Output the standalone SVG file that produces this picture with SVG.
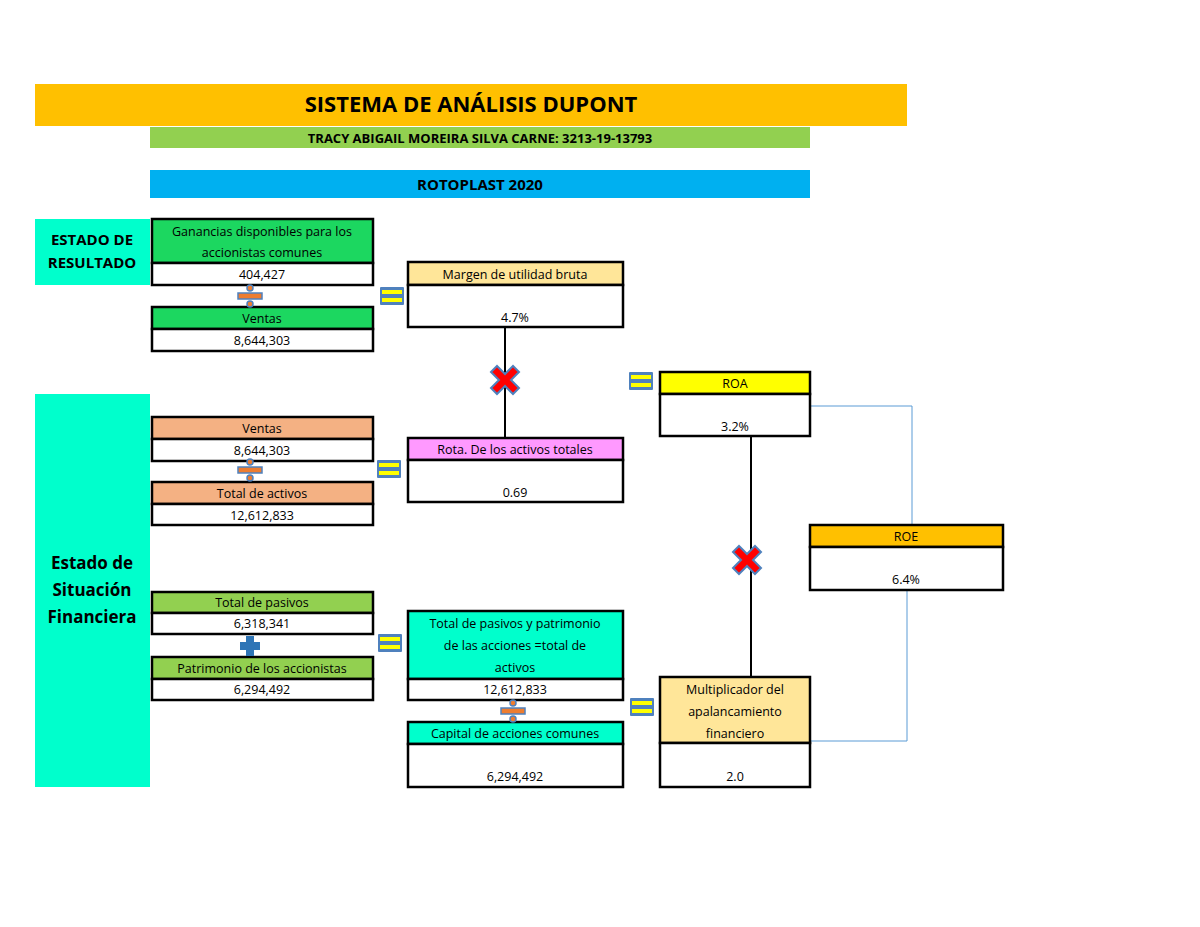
<svg xmlns="http://www.w3.org/2000/svg" width="1200" height="927" viewBox="0 0 1200 927">
<style>
text{font-family:"Open Sans","Liberation Sans",sans-serif;font-size:12.5px;fill:#000;text-anchor:middle}
.b{font-weight:bold}
.bx{stroke:#000;stroke-width:2.5}
.v{fill:#fff;stroke:#000;stroke-width:2.5}
.ln{stroke:#000;stroke-width:2;fill:none}
.bl{stroke:#5B9BD5;stroke-width:1;fill:none}
</style>
<defs>
<g id="eq"><rect x="-12" y="-9" width="24" height="18" fill="#4F81BD" rx="1"/><rect x="-10" y="-6" width="20" height="4" fill="#FFFF00"/><rect x="-10" y="2" width="20" height="4" fill="#FFFF00"/></g>
<g id="dv"><rect x="-12" y="-3" width="24" height="6" fill="#ED7D31" stroke="#4F81BD" stroke-width="1.5"/><circle cx="0" cy="-8" r="3" fill="#ED7D31" stroke="#4F81BD" stroke-width="1.5"/><circle cx="0" cy="8" r="3" fill="#ED7D31" stroke="#4F81BD" stroke-width="1.5"/></g>
<g id="mx"><path d="M-14,-8 L-8,-14 L0,-6 L8,-14 L14,-8 L6,0 L14,8 L8,14 L0,6 L-8,14 L-14,8 L-6,0Z" fill="#FF0000" stroke="#4F81BD" stroke-width="2"/></g>
</defs>
<g id="header">
<rect x="35" y="84" width="872" height="42" fill="#FFC000"/>
<text x="471" y="112" class="b" style="font-size:22px">SISTEMA DE ANÁLISIS DUPONT</text>
<rect x="150" y="127" width="660" height="21" fill="#92D050"/>
<text x="480" y="143" class="b" style="font-size:13px">TRACY ABIGAIL MOREIRA SILVA    CARNE: 3213-19-13793</text>
<rect x="150" y="170" width="660" height="28" fill="#00B0F0"/>
<text x="480" y="190" class="b" style="font-size:15px">ROTOPLAST 2020</text>
</g>
<g id="side1"><rect x="35" y="219" width="115" height="66" fill="#00FFCC"/><text x="92" y="245" class="b" style="font-size:15px">ESTADO DE</text><text x="92" y="268" class="b" style="font-size:15px">RESULTADO</text></g>
<g id="side2"><rect x="35" y="394" width="115" height="393" fill="#00FFCC"/><text x="92" y="569" class="b" style="font-size:17px">Estado de</text><text x="92" y="596" class="b" style="font-size:17px">Situación</text><text x="92" y="623" class="b" style="font-size:17px">Financiera</text></g>
<g id="connectors">
<line class="ln" x1="505" y1="327" x2="505" y2="438"/>
<line class="ln" x1="751" y1="436" x2="751" y2="677"/>
<polyline class="bl" points="810,406 912,406 912,525"/>
<polyline class="bl" points="907,590 907,741 810,741"/>
</g>
<g id="ganancias"><rect class="bx" x="152" y="219" width="221" height="44" fill="#1CD760"/><text x="262" y="236">Ganancias disponibles para los</text><text x="262" y="257">accionistas comunes</text><rect class="v" x="152" y="263" width="221" height="22"/><text x="262" y="279">404,427</text></g>
<g id="ventas1"><rect class="bx" x="152" y="307" width="221" height="22" fill="#1CD760"/><text x="262" y="323">Ventas</text><rect class="v" x="152" y="329" width="221" height="22"/><text x="262" y="345">8,644,303</text></g>
<g id="margen"><rect class="bx" x="408" y="262" width="215" height="23" fill="#FFE699"/><text x="515" y="279">Margen de utilidad bruta</text><rect class="v" x="408" y="285" width="215" height="42"/><text x="515" y="322">4.7%</text></g>
<g id="roa"><rect class="bx" x="660" y="372" width="150" height="22" fill="#FFFF00"/><text x="735" y="388">ROA</text><rect class="v" x="660" y="394" width="150" height="42"/><text x="735" y="431">3.2%</text></g>
<g id="ventas2"><rect class="bx" x="152" y="417" width="221" height="22" fill="#F4B183"/><text x="262" y="433">Ventas</text><rect class="v" x="152" y="439" width="221" height="22"/><text x="262" y="455">8,644,303</text></g>
<g id="activos"><rect class="bx" x="152" y="482" width="221" height="22" fill="#F4B183"/><text x="262" y="498">Total de activos</text><rect class="v" x="152" y="504" width="221" height="21"/><text x="262" y="520">12,612,833</text></g>
<g id="rota"><rect class="bx" x="408" y="438" width="215" height="22" fill="#FF99FF"/><text x="515" y="454">Rota. De los activos totales</text><rect class="v" x="408" y="460" width="215" height="42"/><text x="515" y="497">0.69</text></g>
<g id="roe"><rect class="bx" x="810" y="525" width="193" height="22" fill="#FFC000"/><text x="906" y="541">ROE</text><rect class="v" x="810" y="547" width="193" height="43"/><text x="906" y="584">6.4%</text></g>
<g id="pasivos"><rect class="bx" x="152" y="592" width="221" height="21" fill="#92D050"/><text x="262" y="607">Total de pasivos</text><rect class="v" x="152" y="613" width="221" height="21"/><text x="262" y="628">6,318,341</text></g>
<g id="patrimonio"><rect class="bx" x="152" y="657" width="221" height="22" fill="#92D050"/><text x="262" y="673">Patrimonio de los accionistas</text><rect class="v" x="152" y="679" width="221" height="21"/><text x="262" y="694">6,294,492</text></g>
<g id="totalpp"><rect class="bx" x="408" y="611" width="215" height="68" fill="#00FFCC"/><text x="515" y="628">Total de pasivos y patrimonio</text><text x="515" y="650">de las acciones =total de</text><text x="515" y="672">activos</text><rect class="v" x="408" y="679" width="215" height="21"/><text x="515" y="694">12,612,833</text></g>
<g id="capital"><rect class="bx" x="408" y="722" width="215" height="22" fill="#00FFCC"/><text x="515" y="738">Capital de acciones comunes</text><rect class="v" x="408" y="744" width="215" height="43"/><text x="515" y="781">6,294,492</text></g>
<g id="multi"><rect class="bx" x="660" y="677" width="150" height="66" fill="#FFE699"/><text x="735" y="694">Multiplicador del</text><text x="735" y="716">apalancamiento</text><text x="735" y="738">financiero</text><rect class="v" x="660" y="743" width="150" height="44"/><text x="735" y="781">2.0</text></g>
<g id="ops">
<use href="#dv" x="250" y="296"/><use href="#dv" x="250" y="470"/><use href="#dv" x="513" y="711"/>
<use href="#eq" x="392" y="296"/><use href="#eq" x="389" y="469"/><use href="#eq" x="390" y="643"/><use href="#eq" x="641" y="381"/><use href="#eq" x="642" y="707"/>
<use href="#mx" x="505" y="380"/><use href="#mx" x="747" y="560"/>
<path d="M246,636 h8 v6 h6 v8 h-6 v6 h-8 v-6 h-6 v-8 h6z" fill="#2E75B6"/>
</g>
</svg>
